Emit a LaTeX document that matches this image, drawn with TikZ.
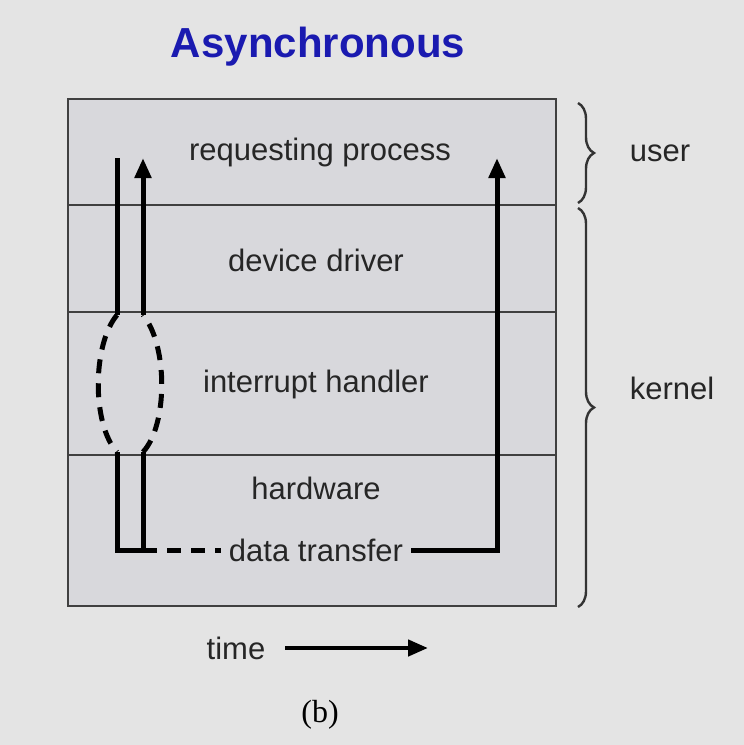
\documentclass[tikz,border=0pt]{standalone}
\usepackage{fontspec}
\setmainfont{Liberation Sans}
\newfontfamily\serifb{Liberation Serif}
\usetikzlibrary{decorations.pathreplacing,arrows.meta}
\definecolor{bg}{HTML}{E4E4E4}
\definecolor{boxfill}{HTML}{D8D8DC}
\definecolor{titleblue}{HTML}{1A1AB0}
\tikzset{lbl/.style={font=\fontsize{31}{36}\selectfont, text=black!85},
  flow/.style={line width=5pt},
  dflow/.style={line width=5pt, dash pattern=on 14pt off 10pt},
  brc/.style={decorate, decoration={brace, amplitude=16pt}, line width=2.4pt, draw=black!80},
  arr/.style={-{Triangle[length=20pt,width=16pt]}}}
\begin{document}
\begin{tikzpicture}[x=1pt,y=-1pt]
\fill[bg] (0,0) rectangle (744,745);
\useasboundingbox (0,0) rectangle (744,745);
\node (title) at (318,47) {\fontsize{42}{46}\selectfont\bfseries\color{titleblue}Asynchronous};
\draw[fill=boxfill, line width=2pt, draw=black!75] (68,99) rectangle (556,606);
\foreach \y in {205,312,455} \draw[line width=2pt, draw=black!75] (68,\y) -- (556,\y);
\node[lbl] (rp) at (320,152) {requesting process};
\node[lbl] (dd) at (316,260) {device driver};
\node[lbl] (ih) at (316,384) {interrupt handler};
\node[lbl] (hw) at (316,488) {hardware};
\node[lbl, inner xsep=8pt] (dt) at (316,550) {data transfer};
\coordinate (lt) at (117,158);
\coordinate (rt) at (143,158);
\draw[flow] (lt) -- (117,315);
\draw[dflow] (117,315) .. controls (92,345) and (92,425) .. (117,452);
\draw[flow] (117,452) -- (117,550) -- (143,550);
\draw[flow] (143,550) -- (143,452);
\draw[dflow] (143,452) .. controls (168,425) and (168,345) .. (143,315);
\draw[flow,arr] (143,315) -- (rt);
\draw[dflow] (143,550) -- (dt.west);
\coordinate (rtop) at (497,158);
\draw[flow,arr] (dt.east) -- (497,550) -- (rtop);
\draw[brc] (578,103) -- (578,203);
\draw[brc] (578,208) -- (578,607);
\node[lbl] (user) at (660,153) {user};
\node[lbl] (kernel) at (672,388) {kernel};
\node[lbl] (time) at (236,648) {time};
\coordinate (tend) at (428,648);
\draw[line width=4.5pt, arr] (285,648) -- (tend);
\node (b) at (320,715) {\serifb\fontsize{32}{36}\selectfont (b)};
\end{tikzpicture}
\end{document}
